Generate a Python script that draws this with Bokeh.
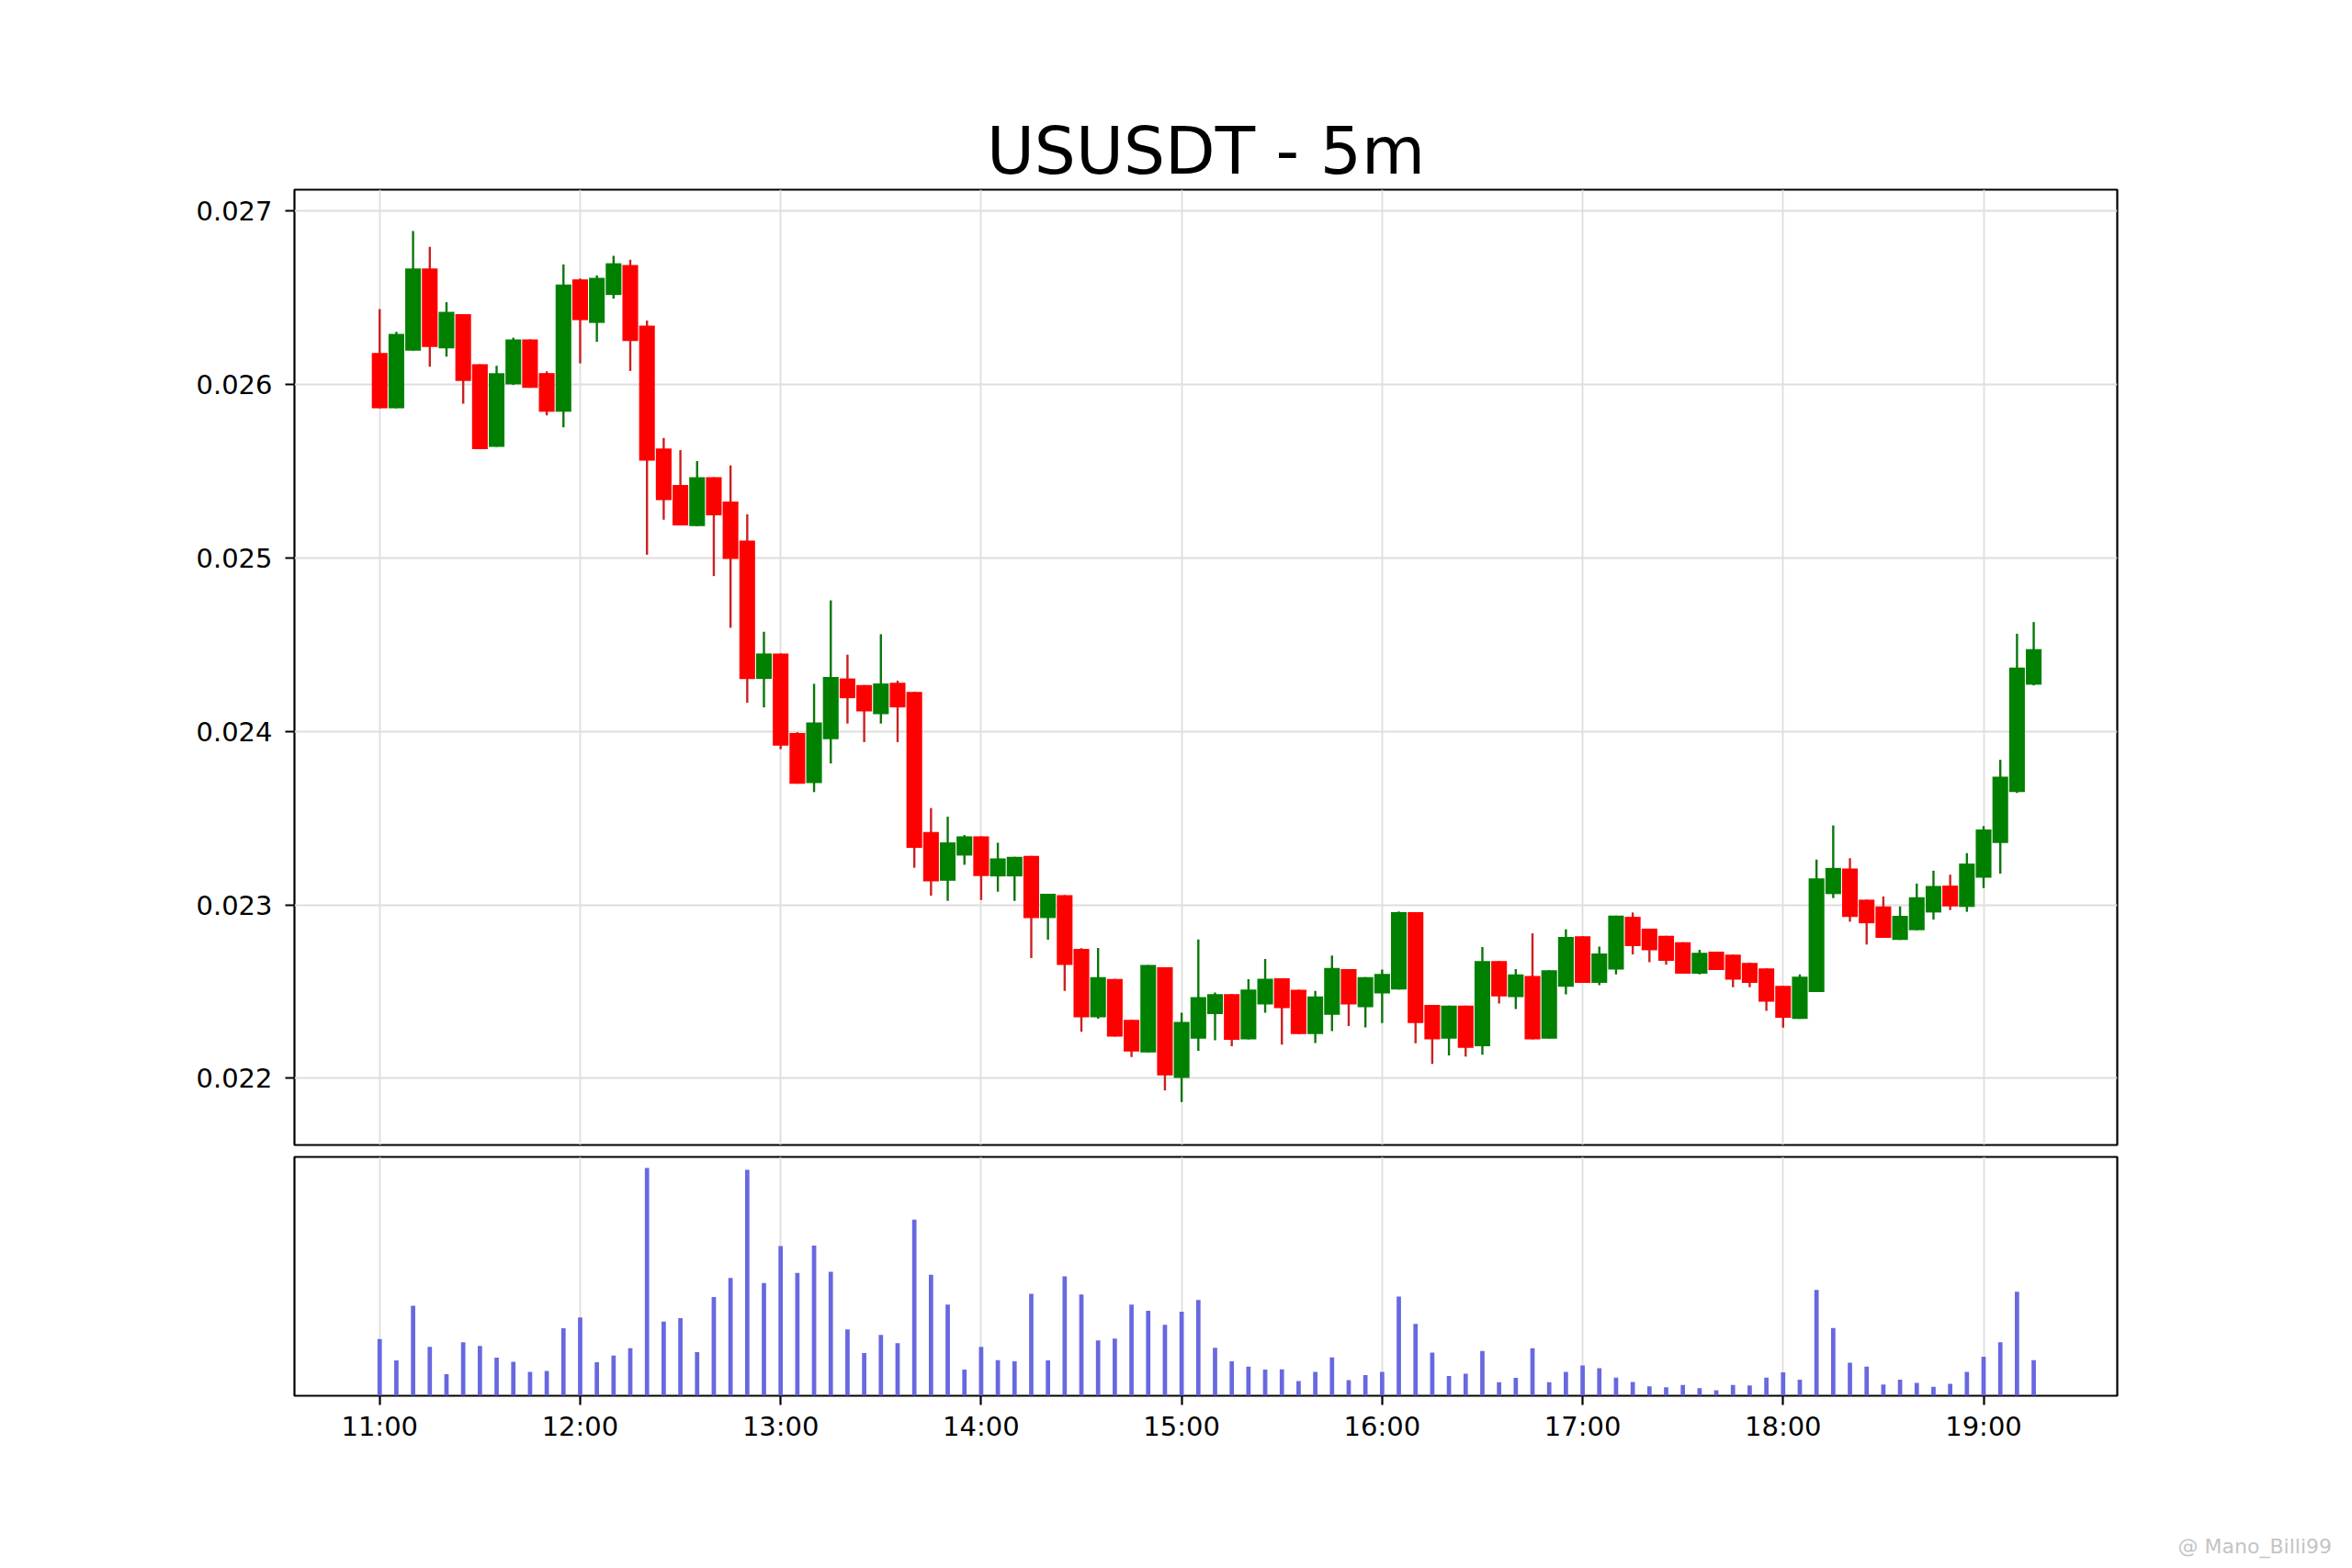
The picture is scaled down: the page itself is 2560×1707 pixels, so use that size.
from bokeh.plotting import figure
from bokeh.layouts import column
from bokeh.models import Range1d, FixedTicker, ColumnDataSource, PrintfTickFormatter, Div
from bokeh.embed import file_html
from bokeh.resources import INLINE

# ---------------- data (5-minute candles from 11:00 to 19:15) ----------------
opens = [0.026181, 0.025862, 0.026194, 0.026668, 0.026208, 0.026404, 0.026116, 0.025640, 0.026000, 0.026259,
         0.026065, 0.025842, 0.026605, 0.026354, 0.026515, 0.026688, 0.026338, 0.025630, 0.025420, 0.025183,
         0.025465, 0.025325, 0.025099, 0.024302, 0.024449, 0.023990, 0.023702, 0.023955, 0.024305, 0.024267,
         0.024099, 0.024280, 0.024228, 0.023420, 0.023139, 0.023284, 0.023395, 0.023164, 0.023164, 0.023282,
         0.022924, 0.023056, 0.022746, 0.022352, 0.022573, 0.022337, 0.022150, 0.022640, 0.022003, 0.022229,
         0.022370, 0.022486, 0.022225, 0.022426, 0.022577, 0.022511, 0.022255, 0.022366, 0.022630, 0.022410,
         0.022489, 0.022512, 0.022958, 0.022423, 0.022229, 0.022419, 0.022185, 0.022676, 0.022468, 0.022590,
         0.022229, 0.022528, 0.022819, 0.022551, 0.022627, 0.022931, 0.022863, 0.022822, 0.022785, 0.022604,
         0.022731, 0.022713, 0.022665, 0.022634, 0.022533, 0.022342, 0.022498, 0.023062, 0.023210, 0.023030,
         0.022991, 0.022798, 0.022854, 0.022956, 0.023111, 0.022988, 0.023157, 0.023356, 0.023650, 0.024269]
highs = [0.026434, 0.026303, 0.026884, 0.026792, 0.026474, 0.026404, 0.026116, 0.026107, 0.026269, 0.026259,
         0.026075, 0.026691, 0.026610, 0.026628, 0.026741, 0.026718, 0.026368, 0.025691, 0.025621, 0.025558,
         0.025465, 0.025533, 0.025251, 0.024574, 0.024449, 0.023995, 0.024274, 0.024755, 0.024442, 0.024267,
         0.024560, 0.024292, 0.024228, 0.023558, 0.023508, 0.023402, 0.023395, 0.023358, 0.023277, 0.023282,
         0.023064, 0.023056, 0.022750, 0.022751, 0.022573, 0.022337, 0.022654, 0.022640, 0.022379, 0.022801,
         0.022495, 0.022486, 0.022572, 0.022688, 0.022577, 0.022511, 0.022504, 0.022708, 0.022630, 0.022583,
         0.022627, 0.022962, 0.022958, 0.022423, 0.022419, 0.022419, 0.022757, 0.022676, 0.022630, 0.022836,
         0.022623, 0.022859, 0.022819, 0.022759, 0.022938, 0.022956, 0.022863, 0.022822, 0.022785, 0.022741,
         0.022731, 0.022713, 0.022665, 0.022634, 0.022533, 0.022600, 0.023261, 0.023458, 0.023269, 0.023030,
         0.023048, 0.022991, 0.023123, 0.023197, 0.023174, 0.023298, 0.023454, 0.023836, 0.024563, 0.024630]
lows = [0.025862, 0.025862, 0.026194, 0.026102, 0.026160, 0.025888, 0.025627, 0.025640, 0.025997, 0.025980,
        0.025821, 0.025752, 0.026121, 0.026245, 0.026494, 0.026077, 0.025018, 0.025220, 0.025187, 0.025183,
        0.024895, 0.024597, 0.024165, 0.024138, 0.023897, 0.023698, 0.023650, 0.023815, 0.024045, 0.023938,
        0.024045, 0.023938, 0.023214, 0.023053, 0.023023, 0.023231, 0.023028, 0.023076, 0.023023, 0.022693,
        0.022799, 0.022504, 0.022269, 0.022344, 0.022241, 0.022123, 0.022150, 0.021931, 0.021864, 0.022158,
        0.022220, 0.022185, 0.022225, 0.022379, 0.022194, 0.022255, 0.022204, 0.022273, 0.022301, 0.022294,
        0.022319, 0.022512, 0.022202, 0.022083, 0.022132, 0.022125, 0.022136, 0.022431, 0.022400, 0.022225,
        0.022229, 0.022484, 0.022551, 0.022537, 0.022600, 0.022715, 0.022669, 0.022655, 0.022604, 0.022600,
        0.022625, 0.022525, 0.022525, 0.022389, 0.022292, 0.022342, 0.022498, 0.023039, 0.022903, 0.022771,
        0.022810, 0.022798, 0.022854, 0.022915, 0.022970, 0.022960, 0.023097, 0.023180, 0.023645, 0.024265]
closes = [0.025862, 0.026291, 0.026668, 0.026215, 0.026418, 0.026019, 0.025627, 0.026065, 0.026259, 0.025980,
          0.025842, 0.026576, 0.026370, 0.026614, 0.026698, 0.026250, 0.025560, 0.025333, 0.025187, 0.025465,
          0.025245, 0.024994, 0.024302, 0.024449, 0.023918, 0.023698, 0.024051, 0.024313, 0.024191, 0.024115,
          0.024276, 0.024138, 0.023329, 0.023136, 0.023360, 0.023395, 0.023166, 0.023268, 0.023277, 0.022924,
          0.023064, 0.022654, 0.022352, 0.022584, 0.022241, 0.022155, 0.022654, 0.022017, 0.022326, 0.022469,
          0.022486, 0.022222, 0.022512, 0.022574, 0.022405, 0.022255, 0.022472, 0.022636, 0.022426, 0.022583,
          0.022602, 0.022958, 0.022319, 0.022225, 0.022419, 0.022176, 0.022676, 0.022472, 0.022599, 0.022225,
          0.022623, 0.022815, 0.022551, 0.022720, 0.022938, 0.022762, 0.022738, 0.022678, 0.022604, 0.022724,
          0.022625, 0.022569, 0.022551, 0.022442, 0.022349, 0.022586, 0.023153, 0.023213, 0.022930, 0.022894,
          0.022810, 0.022937, 0.023044, 0.023109, 0.022991, 0.023238, 0.023435, 0.023739, 0.024368, 0.024474]
volumes = [185, 115, 293, 159, 70, 174, 162, 124, 111, 78, 81, 220, 255, 109, 131, 155, 742, 242, 253, 142,
           322, 384, 736, 367, 488, 400, 489, 404, 216, 139, 198, 171, 574, 394, 297, 85, 159, 116, 112, 332,
           115, 389, 330, 180, 186, 297, 277, 231, 274, 312, 156, 112, 95, 85, 86, 48, 78, 125, 51, 67,
           78, 323, 234, 141, 64, 72, 146, 44, 58, 155, 44, 78, 99, 90, 59, 45, 31, 28, 35, 25,
           18, 35, 34, 59, 76, 52, 345, 221, 108, 95, 37, 52, 42, 29, 39, 78, 127, 174, 339, 116]
hour_labels = ["11:00", "12:00", "13:00", "14:00", "15:00", "16:00", "17:00", "18:00", "19:00"]
price_ticks = [0.022, 0.023, 0.024, 0.025, 0.026, 0.027]
title_text = "USUSDT - 5m"
watermark_text = "@ Mano_Billi99"

CANDLES_PER_HOUR = 12
FONT = "DejaVu Sans"
UP, DOWN = "#008000", "#ff0000"
UP_WICK, DOWN_WICK = "#0b760b", "#cc2020"
GRID = "#dedede"

idx = list(range(len(opens)))
up = [c >= o for o, c in zip(opens, closes)]
src = ColumnDataSource(dict(
    x=idx, open=opens, high=highs, low=lows, close=closes, volume=volumes,
    body_top=[max(o, c) for o, c in zip(opens, closes)],
    body_bot=[min(o, c) for o, c in zip(opens, closes)],
    color=[UP if u else DOWN for u in up],
    wick=[UP_WICK if u else DOWN_WICK for u in up],
))
hour_ticks = [i * CANDLES_PER_HOUR for i in range(len(hour_labels))]

x_range = Range1d(-5.1, 104.0)

# ---------------- price panel ----------------
p = figure(frame_width=1984, frame_height=1040,
           min_border_left=320, min_border_right=240, min_border_top=206, min_border_bottom=6,
           x_range=x_range, y_range=Range1d(0.021616, 0.027122),
           output_backend="svg", toolbar_location=None)
p.title.text = title_text
p.title.align = "center"
p.title.text_font = FONT
p.title.text_font_size = "71px"
p.title.text_font_style = "normal"
p.title.text_color = "black"
p.title.standoff = 2

p.xaxis.visible = False
p.xgrid.ticker = FixedTicker(ticks=hour_ticks)
p.xgrid.grid_line_color = GRID
p.xgrid.grid_line_width = 1.8
p.ygrid.ticker = FixedTicker(ticks=price_ticks)
p.ygrid.grid_line_color = GRID
p.ygrid.grid_line_width = 1.8

ya = p.yaxis[0]
ya.ticker = FixedTicker(ticks=price_ticks)
ya.formatter = PrintfTickFormatter(format="%.3f")
ya.axis_line_color = None
ya.major_tick_line_color = "black"
ya.major_tick_line_width = 2.2
ya.major_tick_out = 10
ya.major_tick_in = 0
ya.minor_tick_line_color = None
ya.major_label_text_font = FONT
ya.major_label_text_font_size = "29px"
ya.major_label_text_color = "black"
ya.major_label_standoff = 14

p.outline_line_color = "black"
p.outline_line_width = 2.2
p.outline_line_alpha = 1.0

p.segment(x0="x", y0="low", x1="x", y1="high", line_color="wick", line_width=2.4, source=src)
p.vbar(x="x", width=0.94, top="body_top", bottom="body_bot", fill_color="color",
       line_color=None, source=src)

# ---------------- volume panel ----------------
v = figure(frame_width=1984, frame_height=260,
           min_border_left=320, min_border_right=240, min_border_top=7, min_border_bottom=150,
           x_range=x_range, y_range=Range1d(0, 778),
           output_backend="svg", toolbar_location=None)
v.yaxis.visible = False
v.ygrid.grid_line_color = None
v.xgrid.ticker = FixedTicker(ticks=hour_ticks)
v.xgrid.grid_line_color = GRID
v.xgrid.grid_line_width = 1.8

xa = v.xaxis[0]
xa.ticker = FixedTicker(ticks=hour_ticks)
xa.major_label_overrides = {t: lab for t, lab in zip(hour_ticks, hour_labels)}
xa.axis_line_color = None
xa.major_tick_line_color = "black"
xa.major_tick_line_width = 2.2
xa.major_tick_out = 10
xa.major_tick_in = 0
xa.minor_tick_line_color = None
xa.major_label_text_font = FONT
xa.major_label_text_font_size = "29px"
xa.major_label_text_color = "black"
xa.major_label_standoff = 6

v.outline_line_color = "black"
v.outline_line_width = 2.2
v.outline_line_alpha = 1.0

v.vbar(x="x", width=0.26, top="volume", bottom=0, fill_color="#6868e0", line_color=None, source=src)

# faint source watermark in the bottom-right corner
wm = Div(text=watermark_text, width=2544, height=30, margin=(0, 0, 0, 0),
         styles={"text-align": "right", "color": "#c4c4c4", "font-family": FONT,
                 "font-size": "22px", "line-height": "30px", "padding-right": "6px",
                 "box-sizing": "border-box"})

layout = column(p, v, wm, spacing=0)
open("out.html", "w").write(file_html(layout, INLINE))
